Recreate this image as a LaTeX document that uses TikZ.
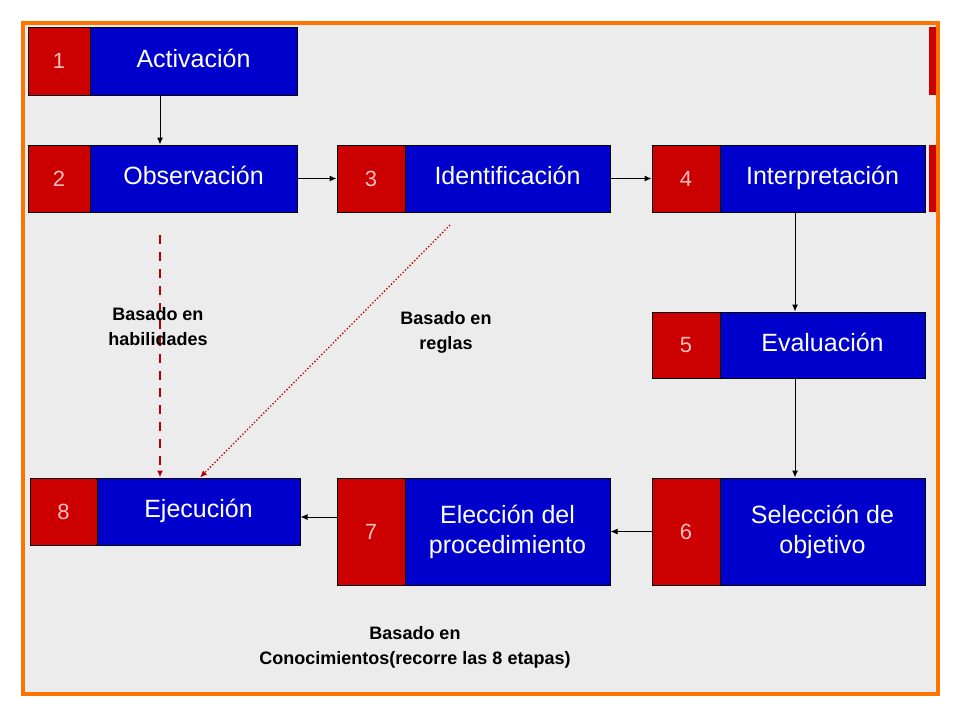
\documentclass[tikz,border=0pt]{standalone}
\usepackage{fontspec}
\usetikzlibrary{arrows.meta}
\setmainfont{Liberation Sans}
\begin{document}
\begin{tikzpicture}[x=1pt,y=-1pt,
 red/.style={fill=red!80!black,draw=black,line width=1pt,text=red!25!white,font=\fontsize{22}{24}\selectfont,inner sep=0pt},
 blue/.style={fill=blue!80!black,draw=black,line width=1pt,text=white,font=\fontsize{25}{30}\selectfont,inner sep=0pt,align=center},
 lab/.style={font=\bfseries\fontsize{18}{25}\selectfont,align=center},
 arr/.style={-{Latex[length=7pt,width=6pt]},line width=1pt}]
\useasboundingbox (0,0) rectangle (960,720);
\fill[white] (0,0) rectangle (960,720);
\draw[orange!90!red,line width=4pt,fill=gray!15] (23,23) rectangle (938,694);
% partial boxes at right edge
\fill[red!80!black] (929,27) rectangle (936,95);
\fill[red!80!black] (929,145) rectangle (936,212);
\newcommand{\stagebox}[8]{%
 \node[red,minimum width=#3-#2,minimum height=#6-#5] (r#1) at ({(#2+#3)/2},{(#5+#6)/2}) {#7};
 \node[blue,minimum width=#4-#3,minimum height=#6-#5] (b#1) at ({(#3+#4)/2},{(#5+#6)/2}) {#8};}
\stagebox{1}{28}{90}{297}{27}{95}{1}{\strut Activación}
\stagebox{2}{28}{90}{297}{145}{212}{2}{\strut Observación}
\stagebox{3}{337}{405}{610}{145}{212}{3}{\strut Identificación}
\stagebox{4}{652}{720}{925}{145}{212}{4}{\strut Interpretación}
\stagebox{5}{652}{720}{925}{312}{378}{5}{\strut Evaluación}
\stagebox{6}{652}{720}{925}{478}{585}{6}{Selección de\\objetivo}
\stagebox{7}{337}{405}{610}{478}{585}{7}{Elección del\\procedimiento}
\stagebox{8}{30}{97}{300}{478}{545}{8}{\strut Ejecución}
\draw[arr] (b1.south -| 160,0) -- (b2.north -| 160,0);
\draw[arr] (b2.east) -- (r3.west);
\draw[arr] (b3.east) -- (r4.west);
\draw[arr] (b4.south -| 795,0) -- (b5.north -| 795,0);
\draw[arr] (b5.south -| 795,0) -- (b6.north -| 795,0);
\draw[arr] (r6.west) -- (b7.east);
\draw[arr] (r7.west |- 0,517) -- (b8.east |- 0,517);
\coordinate (d1) at (160,235);
\coordinate (d2) at (450,225);
\draw[red!70!black,line width=1.3pt,dash pattern=on 9pt off 8pt,-{Latex[length=7pt,width=6pt]}] (d1) -- (b8.north -| 160,0);
\draw[red!70!black,line width=1.3pt,dotted,-{Latex[length=7pt,width=6pt]}] (d2) -- (b8.north -| 200,0);
\node[lab] (l1) at (158,327) {Basado en\\habilidades};
\node[lab] (l2) at (446,332) {Basado en\\reglas};
\node[lab] (l3) at (415,647) {Basado en\\Conocimientos(recorre las 8 etapas)};
\end{tikzpicture}
\end{document}
